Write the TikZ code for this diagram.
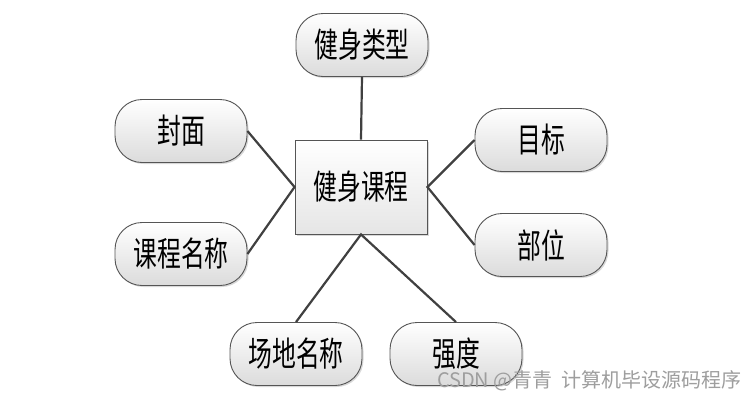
\documentclass[tikz,border=0pt]{standalone}
\usepackage{fontspec}
\usetikzlibrary{shadows}
\newfontfamily\cjk[FakeStretch=0.70]{Noto Sans CJK SC}
\newfontfamily\wmfont{Noto Sans CJK SC}
\definecolor{linegray}{HTML}{404040}
\definecolor{bordergray}{HTML}{555555}
\tikzset{
  attr/.style={draw=bordergray, line width=0.9pt, rounded corners=27pt,
    minimum width=132pt, minimum height=63pt, top color=white, bottom color=black!14,
    drop shadow={opacity=0.3, shadow xshift=1.5pt, shadow yshift=-1.5pt},
    font=\cjk\fontsize{34}{34}\selectfont, inner sep=0pt},
  entity/.style={draw=bordergray, line width=0.9pt,
    minimum width=132pt, minimum height=94pt, top color=white, bottom color=black!10,
    drop shadow={opacity=0.3, shadow xshift=1.5pt, shadow yshift=-1.5pt},
    font=\cjk\fontsize{34}{34}\selectfont, inner sep=0pt},
  link/.style={draw=linegray, line width=2.2pt}
}
\begin{document}
\begin{tikzpicture}[x=1pt,y=-1pt]
\useasboundingbox[fill=white] (0,0) rectangle (756,400);
\node[entity] (c) at (361,187) {健身课程};
\node[attr] (t) at (362,45) {健身类型};
\node[attr] (fm) at (181,131) {封面};
\node[attr] (kc) at (181,254) {课程名称};
\node[attr] (mb) at (541,140) {目标};
\node[attr] (bw) at (541,245) {部位};
\node[attr] (cd) at (296,354) {场地名称};
\node[attr] (qd) at (456,354) {强度};
\coordinate (cl) at (c.west);
\coordinate (cr) at (c.east);
\coordinate (cb) at (c.south);
\draw[link] (t.south) -- (c.north);
\draw[link] (fm.east) -- (cl) -- (kc.east);
\draw[link] (mb.west) -- (cr) -- (bw.west);
\draw[link] (cd.north) -- (cb) -- (qd.north);
\node[font=\wmfont\fontsize{20}{20}\selectfont, text=black!38, anchor=east, inner sep=0pt] (wm) at (742,381) {CSDN @青青\ \ 计算机毕设源码程序};
\end{tikzpicture}
\end{document}
